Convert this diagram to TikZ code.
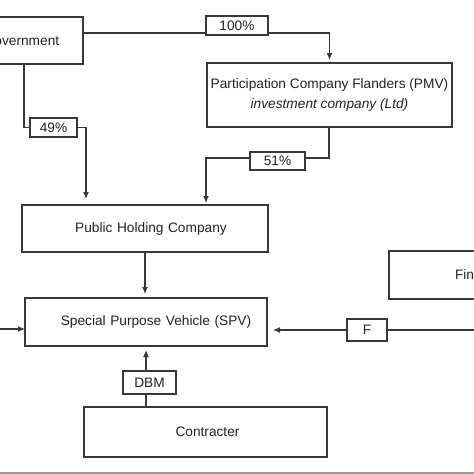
\documentclass[tikz,border=0pt]{standalone}
\usepackage{fontspec}
\setmainfont{Liberation Sans}
\usepackage{tikz}
\usetikzlibrary{arrows.meta}
\definecolor{ink}{HTML}{383838}
\definecolor{txt}{HTML}{222222}
\tikzstyle{unit} = [draw=ink, line width=1.2pt, inner sep=0pt, outer sep=0pt, text=txt, font={\fontsize{13.7}{20}\selectfont}]
\tikzstyle{share} = [unit, fill=white, line width=1.1pt]
\tikzstyle{flow} = [draw=ink, line width=1.2pt]

\begin{document}
\begin{tikzpicture}[x=1pt,y=-1pt,>={Latex[length=7pt,width=6pt]}]
    \useasboundingbox (0,0) rectangle (474,474);
    \node[unit,minimum width=123pt,minimum height=47pt](gov) at (21.5,40.5){Government};
    \node[unit,minimum width=245pt,minimum height=64pt,align=center](pmv) at (329.5,95){Participation Company Flanders (PMV)\\\textit{investment company (Ltd)}};
    \node[unit,minimum width=246pt,minimum height=47pt,text width=246pt,align=center](phc) at (145,228.5){\hspace*{12pt}Public Holding Company};
    \node[unit,minimum width=242pt,minimum height=48pt,text width=242pt,align=center](spv) at (146,322){\hspace*{20pt}Special Purpose Vehicle (SPV)};
    \node[unit,minimum width=180pt,minimum height=48pt,text width=180pt,align=left](fin) at (479,275){\hspace*{66pt}Financers};
    \node[unit,minimum width=243pt,minimum height=50pt,text width=243pt,align=center](con) at (205.5,432){\hspace*{4pt}Contracter};
    \coordinate (inL) at (-10,329);
    \coordinate (inR) at (490,330);
    % labels on the connectors
    \node[share,minimum width=62pt,minimum height=19pt](l100) at (237,25.5){100\%};
    \node[share,minimum width=47pt,minimum height=19pt](l49) at (53.5,127.5){49\%};
    \node[share,minimum width=55pt,minimum height=18pt](l51) at (277.5,161){51\%};
    \node[share,minimum width=40pt,minimum height=22pt](lF) at (367,330){F};
    \node[share,minimum width=53pt,minimum height=23pt](lD) at (149.5,382.5){DBM};
    % ownership
    \draw[flow]([yshift=7.5pt]gov.east)--([yshift=-7.5pt]l100.west);
    \draw[flow,->,shorten >=3pt]([yshift=-7.5pt]l100.east)-|(pmv.north);
    \draw[flow]([xshift=2.5pt]gov.south)|-(l49.west);
    \draw[flow,->,shorten >=6pt](l49.east)-|([xshift=-59pt]phc.north);
    \draw[flow]([xshift=-0.5pt]pmv.south)|-([yshift=3pt]l51.east);
    \draw[flow,->,shorten >=2pt]([yshift=3pt]l51.west)-|([xshift=61pt]phc.north);
    \draw[flow,->,shorten >=4pt](phc.south)--(phc.south |- spv.north);
    % contracts
    \draw[flow,->](inL)--(inL -| spv.west);
    \draw[flow](inR)--(lF.east);
    \draw[flow,->,shorten >=6pt](lF.west)--(lF.west -| spv.east);
    \draw[flow]([xshift=-3.5pt]lD.south)--([xshift=-3.5pt]lD.south |- con.north);
    \draw[flow,->,shorten >=4pt]([xshift=-3.5pt]lD.north)--([xshift=-3.5pt]lD.north |- spv.south);
    \fill[gray!80](0,471.5) rectangle (474,474);
  \end{tikzpicture}
\end{document}
